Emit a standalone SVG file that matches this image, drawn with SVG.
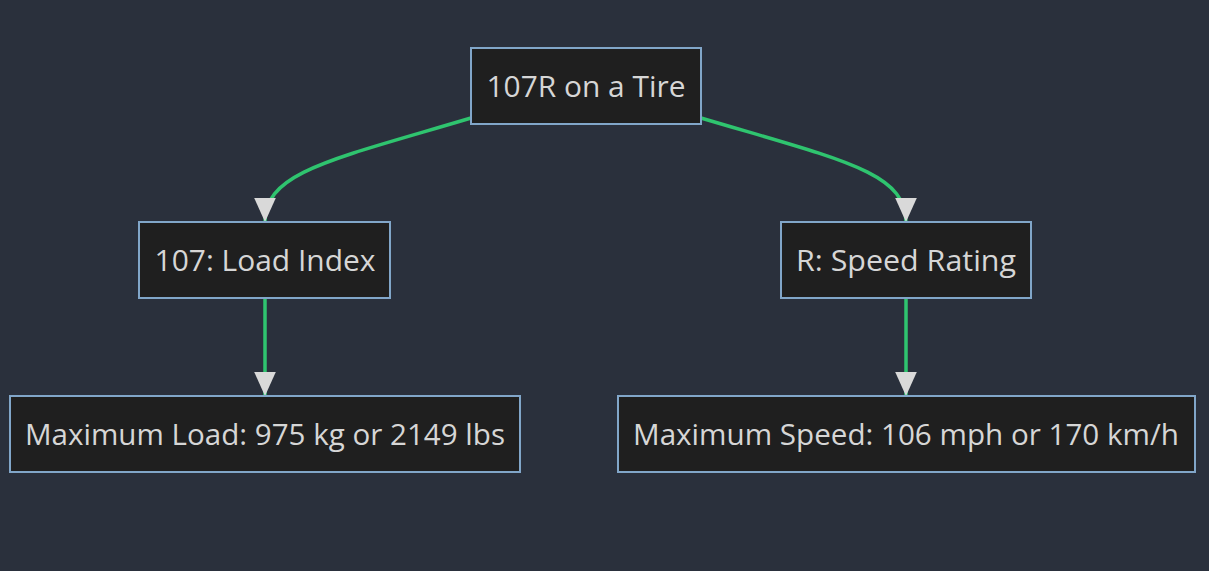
<svg xmlns="http://www.w3.org/2000/svg" width="1209" height="571" viewBox="0 0 1209 571">
<defs>
<style>
.node rect{fill:#1f1f1f;stroke:#81a6c9;stroke-width:2}
.node text{fill:#d6d6d6;font-family:"Open Sans","DejaVu Sans",sans-serif;font-size:30px;text-anchor:middle}
.edge{fill:none;stroke:#2fc46f;stroke-width:3.5}
</style>
<marker id="arrow" viewBox="0 0 10 10" refX="10" refY="5" markerUnits="userSpaceOnUse" markerWidth="24" markerHeight="24" orient="auto">
<path d="M0,0.5 L10,5 L0,9.5 z" fill="#d9d9d9"/>
</marker>
</defs>
<rect width="1209" height="571" fill="#2a303c"/>
<g id="connectors">
<path class="edge" d="M471,118 C330,160 265,172 265,222" marker-end="url(#arrow)"/>
<path class="edge" d="M701,118 C842,160 906,172 906,222" marker-end="url(#arrow)"/>
<path class="edge" d="M265,298 L265,396" marker-end="url(#arrow)"/>
<path class="edge" d="M906,298 L906,396" marker-end="url(#arrow)"/>
</g>
<g id="tire" class="node">
<rect x="471" y="48" width="230" height="76"/>
<text x="586" y="97" textLength="199" lengthAdjust="spacingAndGlyphs">107R on a Tire</text>
</g>
<g id="load" class="node">
<rect x="139" y="222" width="251" height="76"/>
<text x="265" y="271" textLength="221" lengthAdjust="spacingAndGlyphs">107: Load Index</text>
</g>
<g id="speed" class="node">
<rect x="781" y="222" width="250" height="76"/>
<text x="906" y="271" textLength="220" lengthAdjust="spacingAndGlyphs">R: Speed Rating</text>
</g>
<g id="maxload" class="node">
<rect x="10" y="396" width="510" height="76"/>
<text x="265" y="445" textLength="480" lengthAdjust="spacingAndGlyphs">Maximum Load: 975 kg or 2149 lbs</text>
</g>
<g id="maxspeed" class="node">
<rect x="618" y="396" width="577" height="76"/>
<text x="906" y="445" textLength="546" lengthAdjust="spacingAndGlyphs">Maximum Speed: 106 mph or 170 km/h</text>
</g>
</svg>
